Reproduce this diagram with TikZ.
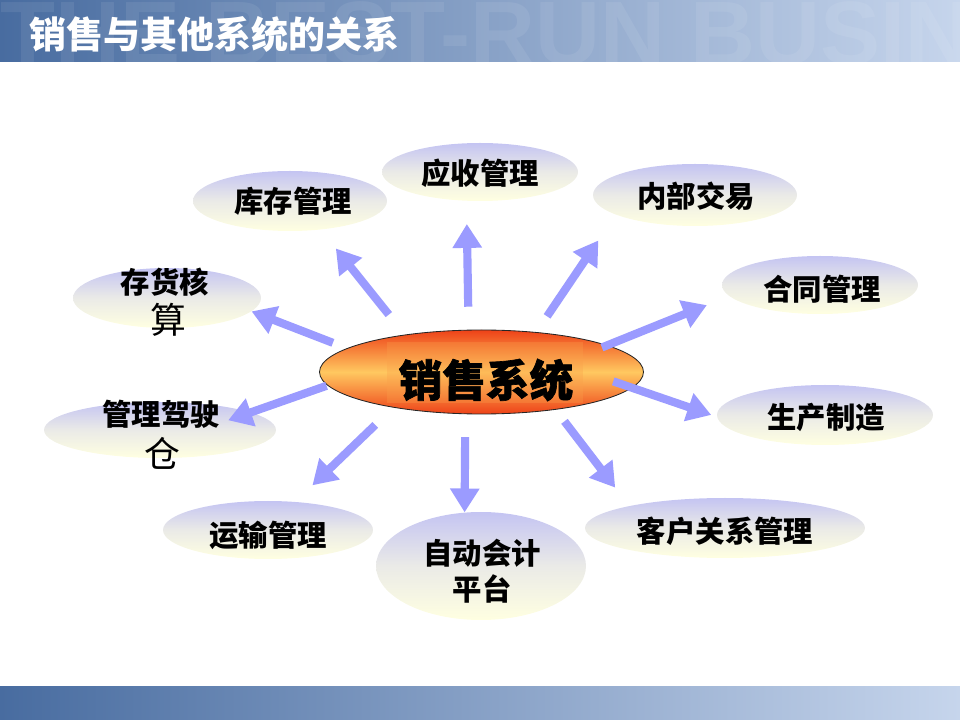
\documentclass[tikz,border=0pt]{standalone}
\usepackage{fontspec}
\usetikzlibrary{arrows.meta,calc,shapes.geometric}
\setmainfont{Liberation Sans}
\newfontfamily\cjk{Noto Sans CJK SC}
\newfontfamily\cjkheavy[BoldFeatures={FakeBold=1.5}]{Noto Sans CJK SC}
\definecolor{bandl}{RGB}{72,108,160}
\definecolor{bandr}{RGB}{198,213,236}
\definecolor{satup}{RGB}{196,196,242}
\definecolor{satlow}{RGB}{255,255,225}
\definecolor{hubout}{RGB}{238,66,24}
\definecolor{hubin}{RGB}{255,200,96}
\definecolor{flowc}{RGB}{155,155,255}
\def\px{0.025cm}

\begin{document}
\begin{tikzpicture} [x=\px, y=-\px, %
  band/.style={shade, shading angle=90, left color=bandl, right color=bandr}, %
  sat/.style={ellipse, top color=satup, bottom color=satlow, middle color=satup!35!satlow}, %
  hubnode/.style={ellipse, draw=black!85, semithick, top color=hubout, bottom color=hubout, middle color=hubin}, %
  flow/.style={line width=5.8pt, flowc, -{Triangle[length=17pt,width=20pt]}}, %
  lbl/.style={font=\cjk\bfseries\fontsize{20.9}{26}\selectfont, inner sep=0pt, align=center}, %
  lastchar/.style={font=\cjk\fontsize{25.5}{30}\selectfont, inner sep=0pt}] %
\useasboundingbox (0,0) rectangle (960,720); %
\fill [band] (0,0) rectangle (960,62); %
\fill [band] (0,686) rectangle (960,720); %
\begin{scope} %
  \clip (0,0) rectangle (960,62); %
  \node (wmark) [anchor=base west, inner sep=0pt, white, opacity=0.08, %
    font=\bfseries\fontsize{64}{64}\selectfont] at (0,65) {THE BEST-RUN BUSIN}; %
\end{scope} %
\node (title) [white, inner sep=0pt, anchor=west, font=\cjk\bfseries\fontsize{26.3}{30}\selectfont] %
  at (29,34) {销售与其他系统的关系}; %
 %
\foreach \name/\x/\y/\rx/\ry in {stock/290/201/97/30, recv/480/172/98/29, inner/695/195/102/31, %
  contract/820/285/98/29, making/825/415/108/30, crm/725/528/140/30, autoacc/481/566/105/54, %
  ship/268/530/105/29, cockpit/160/430/116/28, costing/167/298/94/30} %
  \node (\name) [sat, inner sep=0pt, minimum width=2*\rx*\px, minimum height=2*\ry*\px] at (\x,\y) {}; %
\node (hub) [hubnode, inner sep=0pt, minimum width=324*\px, minimum height=84*\px] at (481.5,372) {}; %
\fill [hubin!70!hubout, opacity=0.3] (387,342) rectangle (583,403); %
 %
\foreach \name/\ha/\ta/\sa/\sb in {stock/154/-43/25.6/24, recv/107.2/245.9/23/23, inner/36/194.6/19/31, %
  contract/12.5/187.7/-6/24, making/-6.7/181/-20/6, crm/-27.6/167/14.6/23, autoacc/249/107.7/23/0, %
  ship/202/46/25/23.7, cockpit/185.6/11.5/1/-24, costing/170.2/-9.4/15/0} %
  \draw [flow, shorten <=\sa*\px, shorten >=\sb*\px] (hub.\ha) -- (\name.\ta); %
 %
\node (hubtext) [inner sep=0pt, font=\cjkheavy\bfseries\fontsize{31}{36}\selectfont] at (486,380) {销售系统}; %
\foreach \name/\x/\y/\txt in {l1/293/201/库存管理, l2/480/173/应收管理, l3/696/196/内部交易, %
  l4/822/289/合同管理, l5/826/417/生产制造, l6/725/531/客户关系管理, l7/482/553/自动会计, %
  l8/482/589/平台, l9/268/535/运输管理, l10/165/282/存货核, l11/161/414/管理驾驶} %
  \node (\name) [lbl] at (\x,\y) {\txt}; %
\node (l12) [lastchar] at (168,320) {算}; %
\node (l13) [lastchar] at (162,453) {仓}; %
\end{tikzpicture}
\end{document}
